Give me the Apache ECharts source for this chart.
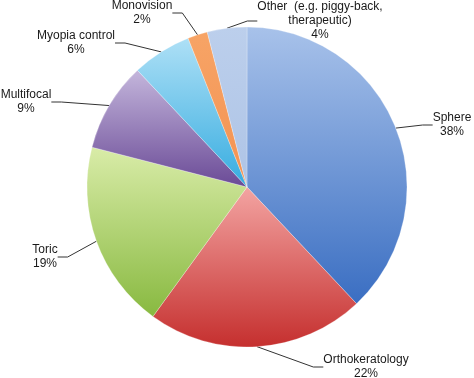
<!DOCTYPE html>
<html>
<head>
<meta charset="utf-8">
<script src="https://cdn.jsdelivr.net/npm/echarts@6/dist/echarts.min.js"></script>
<style>
  html, body { margin: 0; padding: 0; background: #fff; }
  #lensPie { width: 474px; height: 378px; }
</style>
</head>
<body>
<div id="lensPie"></div>
<script>
// lens types, clockwise from 12 o'clock
var categories = [
  "Sphere",
  "Orthokeratology",
  "Toric",
  "Multifocal",
  "Myopia control",
  "Monovision",
  "Other  (e.g. piggy-back,\ntherapeutic)"
];
var shares = [38, 22, 19, 9, 6, 2, 4];

// top / bottom gradient colours per slice
var topColors = ["#a8c2ea", "#f3a4a2", "#d9eca8", "#c4b6dc", "#aee0f6", "#f7a466", "#bccfec"];
var bottomColors = ["#3a6ec2", "#c52f2e", "#88b940", "#6a4a96", "#36ace0", "#f39252", "#aec4e6"];

// where each label text sits (centre)
var labelSpots = [
  [452, 125],
  [366, 367],
  [45, 257],
  [26, 102],
  [76, 43],
  [142, 13],
  [320, 21]
];

var dom = document.getElementById("lensPie");
var myChart = echarts.init(dom);

var pieData = [];
categories.forEach(function (name, i) {
  pieData.push({
    name: name,
    value: shares[i],
    itemStyle: {
      color: new echarts.graphic.LinearGradient(0, 0, 0, 1, [
        { offset: 0, color: topColors[i] },
        { offset: 1, color: bottomColors[i] }
      ])
    }
  });
});

var option = {
  animation: false,
  series: [
    {
      type: "pie",
      center: [247, 187],
      radius: 160,
      startAngle: 90,
      clockwise: true,
      silent: true,
      itemStyle: {
        borderColor: "rgba(255,255,255,0.5)",
        borderWidth: 0.5
      },
      label: {
        show: true,
        formatter: function (p) {
          return p.name + "\n" + p.value + "%";
        },
        fontFamily: "Liberation Sans, Arial, sans-serif",
        fontSize: 12,
        lineHeight: 14,
        color: "#1a1a1a",
        align: "center"
      },
      labelLine: {
        show: true,
        length: 10,
        length2: 10,
        lineStyle: { color: "#333", width: 1 }
      },
      labelLayout: function (params) {
        var spot = labelSpots[params.dataIndex];
        return {
          x: spot[0],
          y: spot[1],
          align: "center",
          verticalAlign: "middle"
        };
      },
      data: pieData
    }
  ]
};
myChart.setOption(option, true);
</script>
</body>
</html>
